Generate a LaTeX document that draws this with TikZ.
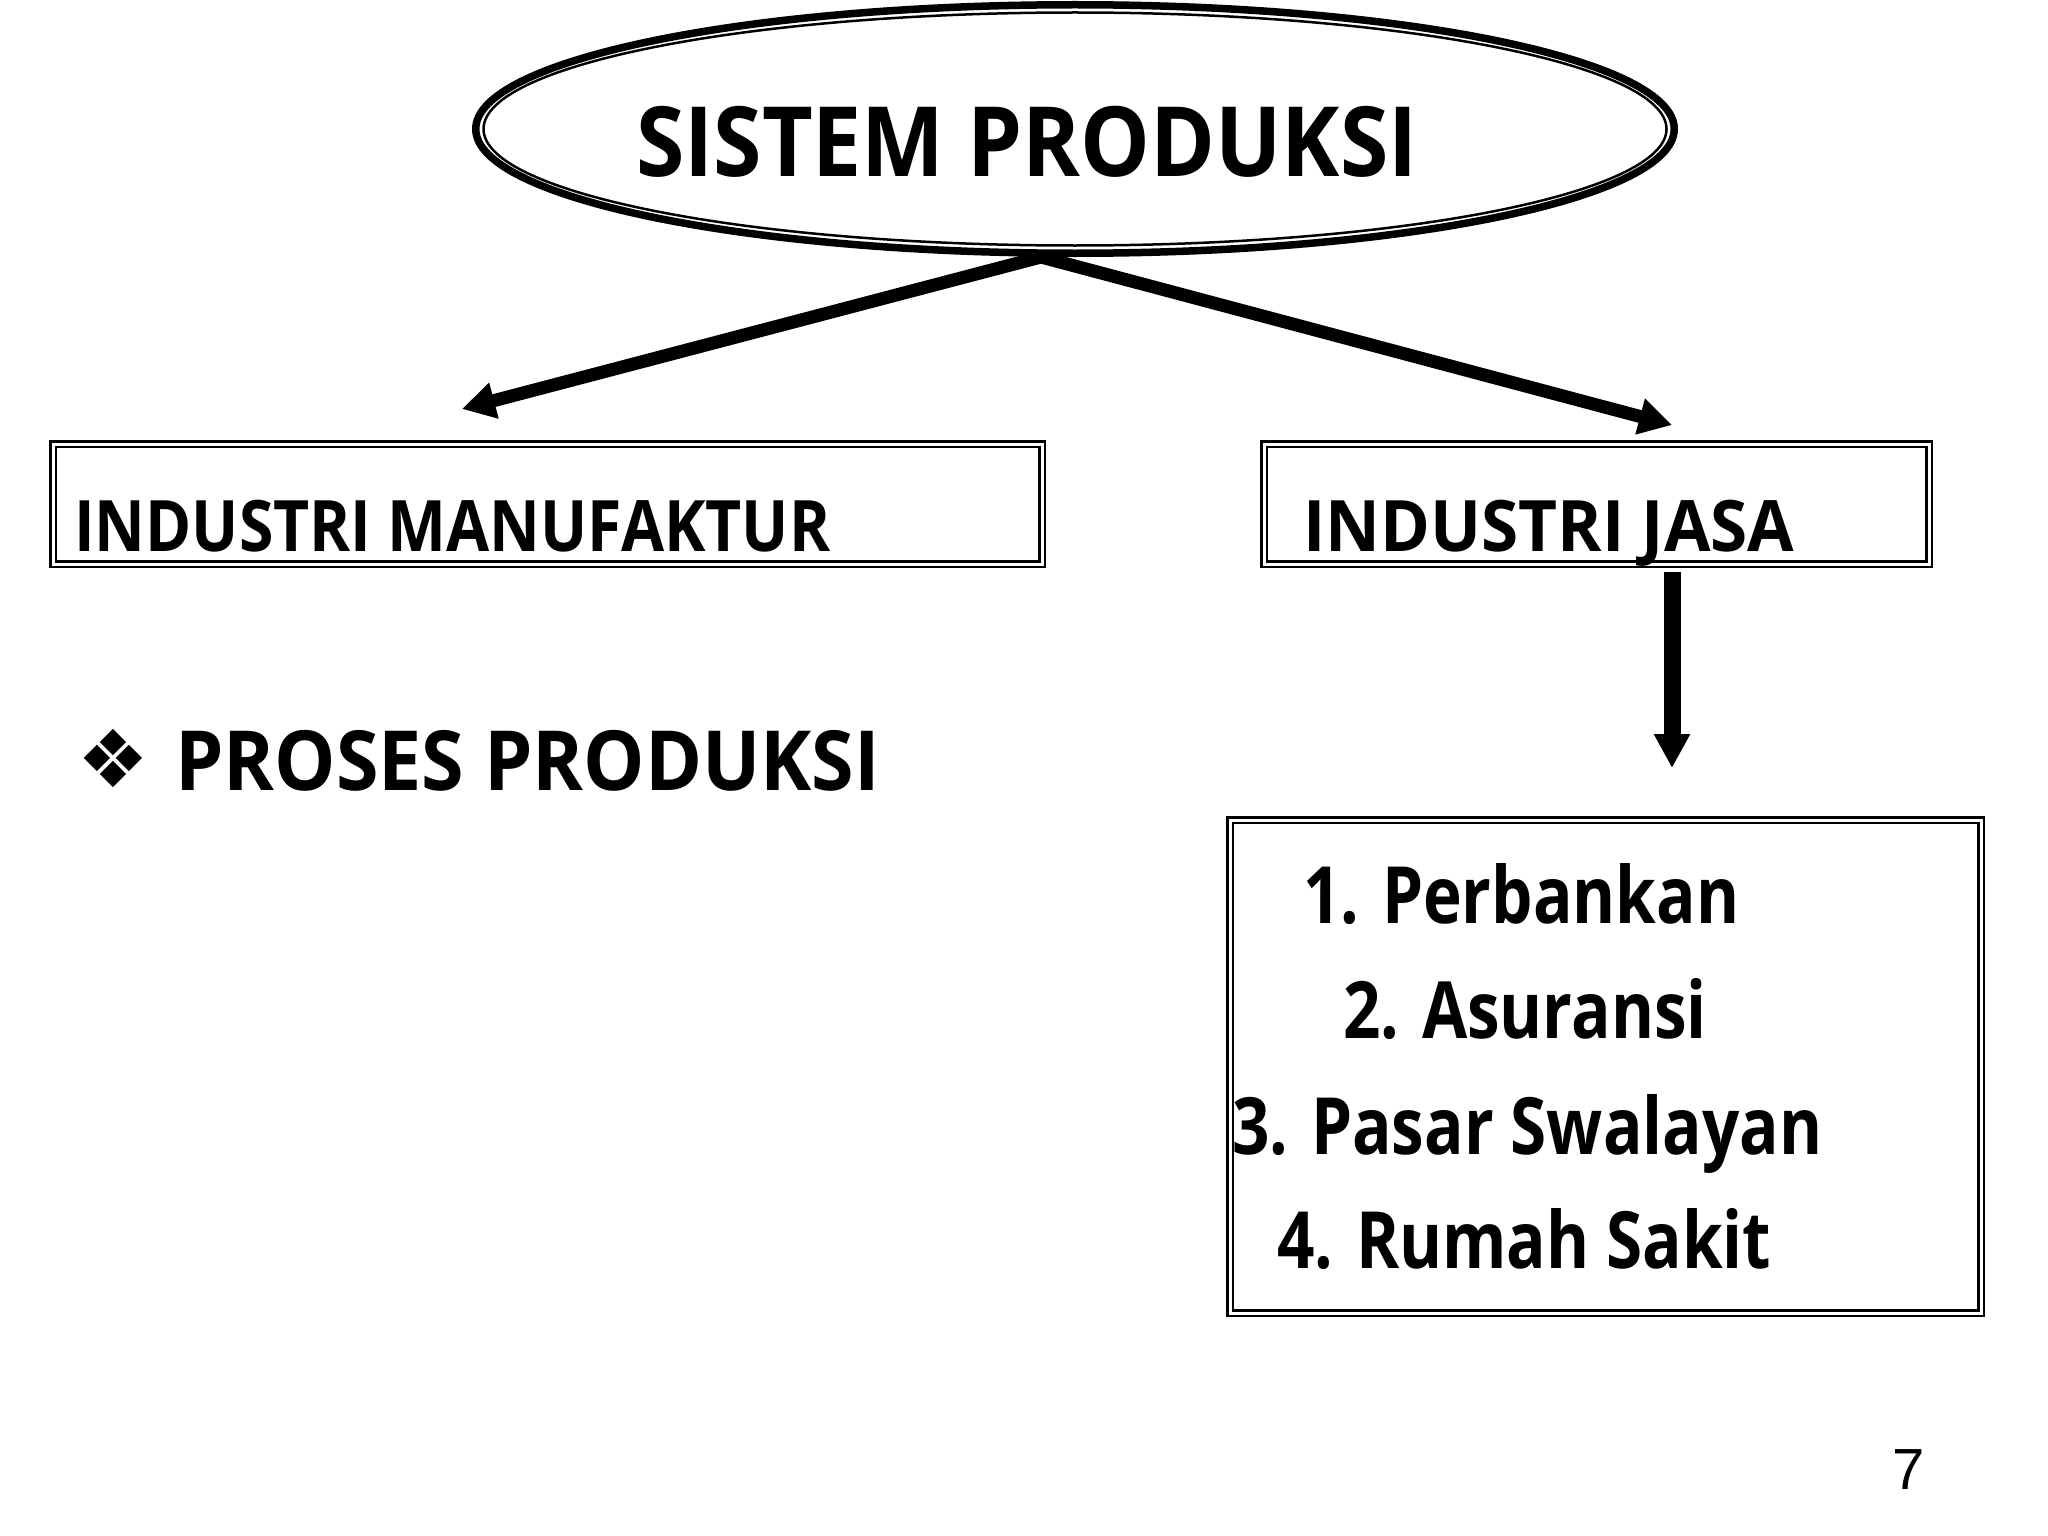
\documentclass[tikz,border=0pt]{standalone}
\usepackage{fontspec}
\setmainfont{Open Sans}
\newfontfamily\osTitle{Open Sans}[FakeStretch=0.905]
\newfontfamily\osMan{Open Sans}[FakeStretch=0.88]
\newfontfamily\osJasa{Open Sans}[FakeStretch=0.95]
\newfontfamily\osProses{Open Sans}[FakeStretch=0.93]
\newfontfamily\osItem{Open Sans}[FakeStretch=0.83]
\newfontfamily\dejavu{DejaVu Sans}
\newfontfamily\arialf{Liberation Sans}
\usetikzlibrary{arrows.meta,shapes.geometric}
\begin{document}
\begin{tikzpicture}[x=1pt,y=-1pt,
  dbox/.style={draw, line width=2.5pt, double, double distance=3pt, inner sep=0pt, anchor=north west},
  txt/.style={inner sep=0pt, anchor=base west},
  itemtxt/.style={txt, font=\fontsize{79}{79}\selectfont\osItem\bfseries},
  bigarrow/.style={line width=13pt, -{Triangle[length=33pt,width=35pt]}},
  downarrow/.style={line width=17pt, -{Triangle[length=34pt,width=34pt]}},
]
\useasboundingbox[fill=white] (0,0) rectangle (2048,1536);

% ellipse
\node[ellipse, minimum width=1206pt, minimum height=256pt, inner sep=0pt] (sys) at (1075,129) {};
\draw[line width=7.5pt] (sys.center) ellipse [x radius=599.25, y radius=124.25];
\draw[line width=2.5pt] (sys.center) ellipse [x radius=591.5, y radius=116.5];
\node[txt, font=\fontsize{97}{97}\selectfont\osTitle\bfseries] (title) at (636,176) {SISTEM PRODUKSI};

% boxes
\node[dbox, minimum width=989pt, minimum height=120pt] (man) at (52,443) {};
\node[txt, font=\fontsize{71}{71}\selectfont\osMan\bfseries] (manT) at (74,551) {INDUSTRI MANUFAKTUR};
\node[dbox, minimum width=665pt, minimum height=120pt] (jasa) at (1263,443) {};
\node[txt, font=\fontsize{71}{71}\selectfont\osJasa\bfseries] (jasaT) at (1303,551) {INDUSTRI JASA};
\node[dbox, minimum width=751pt, minimum height=493pt] (list) at (1229,819) {};

% arrows
\coordinate (src) at (1041,257);
\coordinate (tipL) at (462,409);
\coordinate (tipR) at (1672,425);
\draw[bigarrow] (src) -- (tipL);
\draw[bigarrow] (src) -- (tipR);
\coordinate (dA) at (1672,572);
\coordinate (dB) at (1672,768);
\draw[downarrow] (dA) -- (dB);

% bullet line
\node[inner sep=0pt, font=\fontsize{80}{80}\selectfont\dejavu] (bul) at (113,758) {❖};
\node[txt, font=\fontsize{83}{83}\selectfont\osProses\bfseries] (proses) at (175,790) {PROSES PRODUKSI};

% list items
\node[itemtxt] (i1) at (1303,923) {1. Perbankan};
\node[itemtxt] (i2) at (1343,1038) {2. Asuransi};
\node[itemtxt] (i3) at (1232,1154) {3. Pasar Swalayan};
\node[itemtxt] (i4) at (1277,1268) {4. Rumah Sakit};

% page number
\node[inner sep=0pt, anchor=base, font=\fontsize{58}{58}\selectfont\arialf] (pg) at (1909,1489) {7};
\end{tikzpicture}
\end{document}
